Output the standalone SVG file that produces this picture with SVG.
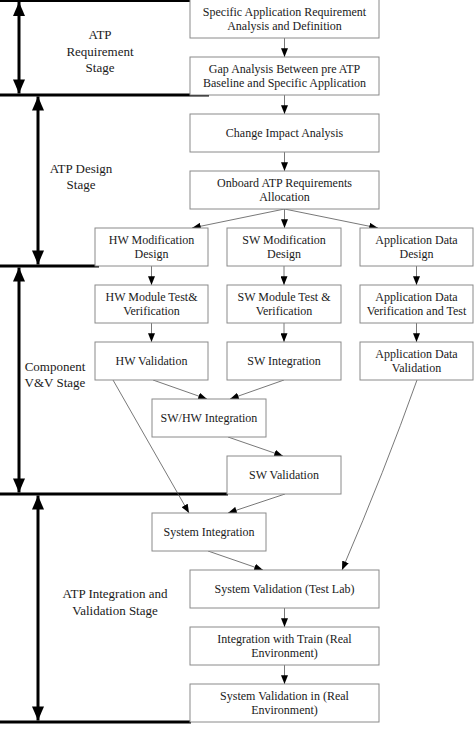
<svg xmlns="http://www.w3.org/2000/svg" width="474" height="744" viewBox="0 0 474 744">
<style>
.box{fill:#fff;stroke:#8a8a8a;stroke-width:1}
.t{font-family:"Liberation Serif","Times New Roman",serif;font-size:12px;fill:#1a1a1a;text-anchor:middle}
.lbl{font-family:"Liberation Serif","Times New Roman",serif;font-size:13px;fill:#1a1a1a;text-anchor:middle}
.edge{stroke:#555;stroke-width:0.8;fill:none;marker-end:url(#ah)}
.stage{stroke:#000;stroke-width:3}
.span{stroke:#000;stroke-width:3;marker-start:url(#bh);marker-end:url(#bh)}
</style>
<defs>
<marker id="ah" viewBox="0 0 10 8" refX="10" refY="4" markerWidth="9" markerHeight="7" orient="auto" markerUnits="userSpaceOnUse"><path d="M0,0 L10,4 L0,8 z" fill="#000"/></marker>
<marker id="bh" viewBox="0 0 14 12" refX="14" refY="6" markerWidth="15" markerHeight="12" orient="auto-start-reverse" markerUnits="userSpaceOnUse"><path d="M0,0 L14,6 L0,12 z" fill="#000"/></marker>
</defs>
<rect width="474" height="744" fill="#fff"/>
<g id="stages">
<line class="stage" x1="0" y1="0.5" x2="190" y2="0.5"/>
<line class="stage" x1="0" y1="95" x2="209" y2="95"/>
<line class="stage" x1="0" y1="266" x2="99" y2="266"/>
<line class="stage" x1="0" y1="494" x2="228" y2="494"/>
<line class="stage" x1="0" y1="722" x2="191" y2="722"/>
<line class="span" x1="19" y1="2" x2="19" y2="93.5"/>
<line class="span" x1="38" y1="96.5" x2="38" y2="264.5"/>
<line class="span" x1="19" y1="267.5" x2="19" y2="492.5"/>
<line class="span" x1="38" y1="495.5" x2="38" y2="720.5"/>
<text class="lbl" x="100" y="39">ATP</text>
<text class="lbl" x="100" y="56">Requirement</text>
<text class="lbl" x="100" y="72">Stage</text>
<text class="lbl" x="81" y="173">ATP Design</text>
<text class="lbl" x="81" y="189">Stage</text>
<text class="lbl" x="55" y="371">Component</text>
<text class="lbl" x="55" y="387">V&amp;V Stage</text>
<text class="lbl" x="115" y="598">ATP Integration and</text>
<text class="lbl" x="115" y="615">Validation Stage</text>
</g>
<g id="connectors">
<line class="edge" x1="284.5" y1="38" x2="284.5" y2="57"/>
<line class="edge" x1="284.5" y1="95" x2="284.5" y2="114"/>
<line class="edge" x1="284.5" y1="152" x2="284.5" y2="171"/>
<line class="edge" x1="284.5" y1="209" x2="192" y2="228"/>
<line class="edge" x1="284.5" y1="209" x2="284.5" y2="228"/>
<line class="edge" x1="284.5" y1="209" x2="378" y2="228"/>
<line class="edge" x1="151.5" y1="266" x2="151.5" y2="285"/>
<line class="edge" x1="284" y1="266" x2="284" y2="285"/>
<line class="edge" x1="416.5" y1="266" x2="416.5" y2="285"/>
<line class="edge" x1="151.5" y1="323" x2="151.5" y2="342"/>
<line class="edge" x1="284" y1="323" x2="284" y2="342"/>
<line class="edge" x1="416.5" y1="323" x2="416.5" y2="342"/>
<line class="edge" x1="153" y1="380" x2="207" y2="399"/>
<line class="edge" x1="284" y1="380" x2="230" y2="399"/>
<line class="edge" x1="228" y1="437" x2="283" y2="456"/>
<line class="edge" x1="285" y1="494" x2="228" y2="513"/>
<line class="edge" x1="113" y1="380" x2="189" y2="513"/>
<line class="edge" x1="208" y1="551" x2="263" y2="570"/>
<path class="edge" d="M417,380 Q385,470 342,570"/>
<line class="edge" x1="284.5" y1="608" x2="284.5" y2="627"/>
<line class="edge" x1="284.5" y1="665" x2="284.5" y2="684"/>
</g>
<g id="n1"><rect class="box" x="190" y="-1" width="189" height="39"/><text class="t" x="284.5" y="16">Specific Application Requirement</text><text class="t" x="284.5" y="30">Analysis and Definition</text></g>
<g id="n2"><rect class="box" x="190" y="57" width="189" height="38"/><text class="t" x="284.5" y="73">Gap Analysis Between pre ATP</text><text class="t" x="284.5" y="87">Baseline and Specific Application</text></g>
<g id="n3"><rect class="box" x="190" y="114" width="189" height="38"/><text class="t" x="284.5" y="137">Change Impact Analysis</text></g>
<g id="n4"><rect class="box" x="190" y="171" width="189" height="38"/><text class="t" x="284.5" y="187">Onboard ATP Requirements</text><text class="t" x="284.5" y="201">Allocation</text></g>
<g id="n5"><rect class="box" x="95" y="228" width="113" height="38"/><text class="t" x="151.5" y="244">HW Modification</text><text class="t" x="151.5" y="258">Design</text></g>
<g id="n6"><rect class="box" x="227" y="228" width="114" height="38"/><text class="t" x="284" y="244">SW Modification</text><text class="t" x="284" y="258">Design</text></g>
<g id="n7"><rect class="box" x="360" y="228" width="113" height="38"/><text class="t" x="416.5" y="244">Application Data</text><text class="t" x="416.5" y="258">Design</text></g>
<g id="n8"><rect class="box" x="95" y="285" width="113" height="38"/><text class="t" x="151.5" y="301">HW Module Test&amp;</text><text class="t" x="151.5" y="315">Verification</text></g>
<g id="n9"><rect class="box" x="227" y="285" width="114" height="38"/><text class="t" x="284" y="301">SW Module Test &amp;</text><text class="t" x="284" y="315">Verification</text></g>
<g id="n10"><rect class="box" x="360" y="285" width="113" height="38"/><text class="t" x="416.5" y="301">Application Data</text><text class="t" x="416.5" y="315">Verification and Test</text></g>
<g id="n11"><rect class="box" x="95" y="342" width="113" height="38"/><text class="t" x="151.5" y="365">HW Validation</text></g>
<g id="n12"><rect class="box" x="227" y="342" width="114" height="38"/><text class="t" x="284" y="365">SW Integration</text></g>
<g id="n13"><rect class="box" x="360" y="342" width="113" height="38"/><text class="t" x="416.5" y="358">Application Data</text><text class="t" x="416.5" y="372">Validation</text></g>
<g id="n14"><rect class="box" x="152" y="399" width="114" height="38"/><text class="t" x="209" y="422">SW/HW Integration</text></g>
<g id="n15"><rect class="box" x="227" y="456" width="114" height="38"/><text class="t" x="284" y="479">SW Validation</text></g>
<g id="n16"><rect class="box" x="152" y="513" width="114" height="38"/><text class="t" x="209" y="536">System Integration</text></g>
<g id="n17"><rect class="box" x="190" y="570" width="189" height="38"/><text class="t" x="284.5" y="593">System Validation (Test Lab)</text></g>
<g id="n18"><rect class="box" x="190" y="627" width="189" height="38"/><text class="t" x="284.5" y="643">Integration with Train (Real</text><text class="t" x="284.5" y="657">Environment)</text></g>
<g id="n19"><rect class="box" x="190" y="684" width="189" height="38"/><text class="t" x="284.5" y="700">System Validation in (Real</text><text class="t" x="284.5" y="714">Environment)</text></g>
</svg>
